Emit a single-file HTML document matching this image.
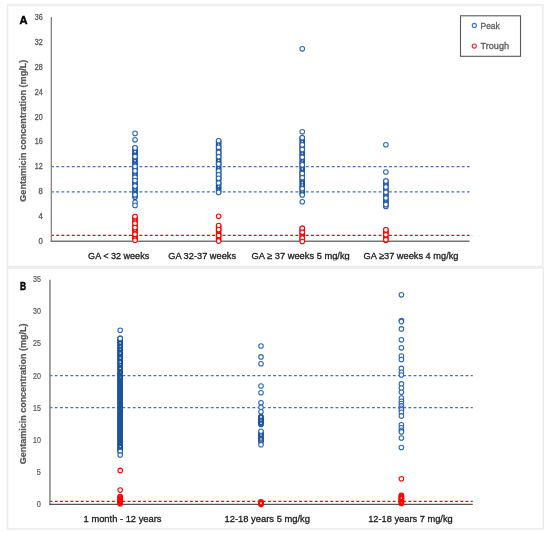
<!DOCTYPE html>
<html><head><meta charset="utf-8"><title>Gentamicin concentrations</title>
<style>html,body{margin:0;padding:0;background:#fff;width:550px;height:534px;overflow:hidden}svg{display:block;filter:blur(0.3px)}</style>
</head><body>
<svg width="550" height="534" viewBox="0 0 550 534"><rect x="0" y="0" width="550" height="534" fill="#fff"/><rect x="7.5" y="5" width="535.3" height="261.5" fill="none" stroke="#EBEBEB" stroke-width="1.5"/><rect x="7.5" y="268" width="535.8" height="260.9" fill="none" stroke="#EBEBEB" stroke-width="1.5"/><line x1="51.0" y1="166.50" x2="469.6" y2="166.50" stroke="#4472C4" stroke-width="1.25" stroke-dasharray="2.9 2.3"/><line x1="51.0" y1="191.90" x2="469.6" y2="191.90" stroke="#4472C4" stroke-width="1.25" stroke-dasharray="2.9 2.3"/><line x1="51.0" y1="235.40" x2="469.6" y2="235.40" stroke="#FF0000" stroke-width="1.15" stroke-dasharray="2.9 2.3"/><line x1="51.35" y1="17.0" x2="51.35" y2="242.0" stroke="#858585" stroke-width="1.35"/><line x1="50.7" y1="241.3" x2="469.6" y2="241.3" stroke="#767676" stroke-width="1.4"/><text x="42.8" y="244.20" font-family="'Liberation Sans', sans-serif" font-size="8.8" fill="#595959" stroke="#595959" stroke-width="0.32" text-anchor="end" textLength="4.3" lengthAdjust="spacingAndGlyphs">0</text><text x="42.8" y="219.27" font-family="'Liberation Sans', sans-serif" font-size="8.8" fill="#595959" stroke="#595959" stroke-width="0.32" text-anchor="end" textLength="4.3" lengthAdjust="spacingAndGlyphs">4</text><text x="42.8" y="194.34" font-family="'Liberation Sans', sans-serif" font-size="8.8" fill="#595959" stroke="#595959" stroke-width="0.32" text-anchor="end" textLength="4.3" lengthAdjust="spacingAndGlyphs">8</text><text x="42.8" y="169.40" font-family="'Liberation Sans', sans-serif" font-size="8.8" fill="#595959" stroke="#595959" stroke-width="0.32" text-anchor="end" textLength="8.0" lengthAdjust="spacingAndGlyphs">12</text><text x="42.8" y="144.47" font-family="'Liberation Sans', sans-serif" font-size="8.8" fill="#595959" stroke="#595959" stroke-width="0.32" text-anchor="end" textLength="8.0" lengthAdjust="spacingAndGlyphs">16</text><text x="42.8" y="119.54" font-family="'Liberation Sans', sans-serif" font-size="8.8" fill="#595959" stroke="#595959" stroke-width="0.32" text-anchor="end" textLength="8.0" lengthAdjust="spacingAndGlyphs">20</text><text x="42.8" y="94.61" font-family="'Liberation Sans', sans-serif" font-size="8.8" fill="#595959" stroke="#595959" stroke-width="0.32" text-anchor="end" textLength="8.0" lengthAdjust="spacingAndGlyphs">24</text><text x="42.8" y="69.68" font-family="'Liberation Sans', sans-serif" font-size="8.8" fill="#595959" stroke="#595959" stroke-width="0.32" text-anchor="end" textLength="8.0" lengthAdjust="spacingAndGlyphs">28</text><text x="42.8" y="44.74" font-family="'Liberation Sans', sans-serif" font-size="8.8" fill="#595959" stroke="#595959" stroke-width="0.32" text-anchor="end" textLength="8.0" lengthAdjust="spacingAndGlyphs">32</text><text x="42.8" y="19.81" font-family="'Liberation Sans', sans-serif" font-size="8.8" fill="#595959" stroke="#595959" stroke-width="0.32" text-anchor="end" textLength="8.0" lengthAdjust="spacingAndGlyphs">36</text><g fill="#fff" stroke="#2A64B4" stroke-width="1.05"><circle cx="135.02" cy="148.00" r="2.3" fill="none" stroke="#1C53A2"/><circle cx="135.02" cy="149.70" r="2.3" fill="none" stroke="#1C53A2"/><circle cx="135.02" cy="151.40" r="2.3" fill="none" stroke="#1C53A2"/><circle cx="135.02" cy="153.10" r="2.3" fill="none" stroke="#1C53A2"/><circle cx="135.02" cy="154.80" r="2.3" fill="none" stroke="#1C53A2"/><circle cx="135.02" cy="156.50" r="2.3" fill="none" stroke="#1C53A2"/><circle cx="135.02" cy="158.20" r="2.3" fill="none" stroke="#1C53A2"/><circle cx="135.02" cy="159.90" r="2.3" fill="none" stroke="#1C53A2"/><circle cx="135.02" cy="161.60" r="2.3" fill="none" stroke="#1C53A2"/><circle cx="135.02" cy="163.30" r="2.3" fill="none" stroke="#1C53A2"/><circle cx="135.02" cy="165.00" r="2.3" fill="none" stroke="#1C53A2"/><circle cx="135.02" cy="166.70" r="2.3" fill="none" stroke="#1C53A2"/><circle cx="135.02" cy="168.40" r="2.3" fill="none" stroke="#1C53A2"/><circle cx="135.02" cy="170.10" r="2.3" fill="none" stroke="#1C53A2"/><circle cx="135.02" cy="171.80" r="2.3" fill="none" stroke="#1C53A2"/><circle cx="135.02" cy="173.50" r="2.3" fill="none" stroke="#1C53A2"/><circle cx="135.02" cy="175.20" r="2.3" fill="none" stroke="#1C53A2"/><circle cx="135.02" cy="176.90" r="2.3" fill="none" stroke="#1C53A2"/><circle cx="135.02" cy="178.60" r="2.3" fill="none" stroke="#1C53A2"/><circle cx="135.02" cy="180.30" r="2.3" fill="none" stroke="#1C53A2"/><circle cx="135.02" cy="182.00" r="2.3" fill="none" stroke="#1C53A2"/><circle cx="135.02" cy="183.70" r="2.3" fill="none" stroke="#1C53A2"/><circle cx="135.02" cy="185.40" r="2.3" fill="none" stroke="#1C53A2"/><circle cx="135.02" cy="187.10" r="2.3" fill="none" stroke="#1C53A2"/><circle cx="135.02" cy="188.80" r="2.3" fill="none" stroke="#1C53A2"/><circle cx="135.02" cy="190.50" r="2.3" fill="none" stroke="#1C53A2"/><circle cx="135.02" cy="192.20" r="2.3" fill="none" stroke="#1C53A2"/><circle cx="135.02" cy="193.90" r="2.3" fill="none" stroke="#1C53A2"/><circle cx="135.02" cy="195.60" r="2.3" fill="none" stroke="#1C53A2"/><circle cx="135.02" cy="197.30" r="2.3" fill="none" stroke="#1C53A2"/><circle cx="135.02" cy="151.75" r="0.95" fill="#fff" stroke="none"/><circle cx="135.02" cy="160.40" r="0.75" fill="#fff" stroke="none"/><circle cx="135.02" cy="173.90" r="0.6" fill="#fff" stroke="none"/><circle cx="135.02" cy="190.00" r="0.75" fill="#fff" stroke="none"/><circle cx="135.02" cy="197.30" r="0.75" fill="#fff" stroke="none"/><circle cx="135.02" cy="133.40" r="2.3"/><circle cx="135.02" cy="139.80" r="2.3"/><circle cx="135.02" cy="147.90" r="2.3"/><circle cx="135.02" cy="156.60" r="2.3"/><circle cx="135.02" cy="166.40" r="2.3"/><circle cx="135.02" cy="170.90" r="2.3"/><circle cx="135.02" cy="177.25" r="2.3"/><circle cx="135.02" cy="180.60" r="2.3"/><circle cx="135.02" cy="186.10" r="2.3"/><circle cx="135.02" cy="194.70" r="2.3"/><circle cx="135.02" cy="202.20" r="2.3"/><circle cx="135.02" cy="205.40" r="2.3"/><circle cx="218.64" cy="141.00" r="2.3" fill="none" stroke="#1C53A2"/><circle cx="218.64" cy="142.70" r="2.3" fill="none" stroke="#1C53A2"/><circle cx="218.64" cy="144.40" r="2.3" fill="none" stroke="#1C53A2"/><circle cx="218.64" cy="146.10" r="2.3" fill="none" stroke="#1C53A2"/><circle cx="218.64" cy="147.80" r="2.3" fill="none" stroke="#1C53A2"/><circle cx="218.64" cy="149.50" r="2.3" fill="none" stroke="#1C53A2"/><circle cx="218.64" cy="151.20" r="2.3" fill="none" stroke="#1C53A2"/><circle cx="218.64" cy="152.90" r="2.3" fill="none" stroke="#1C53A2"/><circle cx="218.64" cy="154.60" r="2.3" fill="none" stroke="#1C53A2"/><circle cx="218.64" cy="156.30" r="2.3" fill="none" stroke="#1C53A2"/><circle cx="218.64" cy="158.00" r="2.3" fill="none" stroke="#1C53A2"/><circle cx="218.64" cy="159.70" r="2.3" fill="none" stroke="#1C53A2"/><circle cx="218.64" cy="161.40" r="2.3" fill="none" stroke="#1C53A2"/><circle cx="218.64" cy="163.10" r="2.3" fill="none" stroke="#1C53A2"/><circle cx="218.64" cy="164.80" r="2.3" fill="none" stroke="#1C53A2"/><circle cx="218.64" cy="166.50" r="2.3" fill="none" stroke="#1C53A2"/><circle cx="218.64" cy="168.20" r="2.3" fill="none" stroke="#1C53A2"/><circle cx="218.64" cy="169.90" r="2.3" fill="none" stroke="#1C53A2"/><circle cx="218.64" cy="171.60" r="2.3" fill="none" stroke="#1C53A2"/><circle cx="218.64" cy="173.30" r="2.3" fill="none" stroke="#1C53A2"/><circle cx="218.64" cy="175.00" r="2.3" fill="none" stroke="#1C53A2"/><circle cx="218.64" cy="176.70" r="2.3" fill="none" stroke="#1C53A2"/><circle cx="218.64" cy="178.40" r="2.3" fill="none" stroke="#1C53A2"/><circle cx="218.64" cy="180.10" r="2.3" fill="none" stroke="#1C53A2"/><circle cx="218.64" cy="181.80" r="2.3" fill="none" stroke="#1C53A2"/><circle cx="218.64" cy="183.50" r="2.3" fill="none" stroke="#1C53A2"/><circle cx="218.64" cy="185.20" r="2.3" fill="none" stroke="#1C53A2"/><circle cx="218.64" cy="186.90" r="2.3" fill="none" stroke="#1C53A2"/><circle cx="218.64" cy="188.60" r="2.3" fill="none" stroke="#1C53A2"/><circle cx="218.64" cy="190.30" r="2.3" fill="none" stroke="#1C53A2"/><circle cx="218.64" cy="192.00" r="2.3" fill="none" stroke="#1C53A2"/><circle cx="218.64" cy="144.30" r="0.75" fill="#fff" stroke="none"/><circle cx="218.64" cy="160.50" r="0.75" fill="#fff" stroke="none"/><circle cx="218.64" cy="167.90" r="0.6" fill="#fff" stroke="none"/><circle cx="218.64" cy="186.60" r="0.75" fill="#fff" stroke="none"/><circle cx="218.64" cy="140.70" r="2.3"/><circle cx="218.64" cy="147.20" r="2.3"/><circle cx="218.64" cy="152.60" r="2.3"/><circle cx="218.64" cy="156.80" r="2.3"/><circle cx="218.64" cy="164.10" r="2.3"/><circle cx="218.64" cy="171.00" r="2.3"/><circle cx="218.64" cy="174.80" r="2.3"/><circle cx="218.64" cy="178.20" r="2.3"/><circle cx="218.64" cy="183.00" r="2.3"/><circle cx="218.64" cy="192.40" r="2.3"/><circle cx="302.26" cy="137.70" r="2.3" fill="none" stroke="#1C53A2"/><circle cx="302.26" cy="139.40" r="2.3" fill="none" stroke="#1C53A2"/><circle cx="302.26" cy="141.10" r="2.3" fill="none" stroke="#1C53A2"/><circle cx="302.26" cy="142.80" r="2.3" fill="none" stroke="#1C53A2"/><circle cx="302.26" cy="144.50" r="2.3" fill="none" stroke="#1C53A2"/><circle cx="302.26" cy="146.20" r="2.3" fill="none" stroke="#1C53A2"/><circle cx="302.26" cy="147.90" r="2.3" fill="none" stroke="#1C53A2"/><circle cx="302.26" cy="149.60" r="2.3" fill="none" stroke="#1C53A2"/><circle cx="302.26" cy="151.30" r="2.3" fill="none" stroke="#1C53A2"/><circle cx="302.26" cy="153.00" r="2.3" fill="none" stroke="#1C53A2"/><circle cx="302.26" cy="154.70" r="2.3" fill="none" stroke="#1C53A2"/><circle cx="302.26" cy="156.40" r="2.3" fill="none" stroke="#1C53A2"/><circle cx="302.26" cy="158.10" r="2.3" fill="none" stroke="#1C53A2"/><circle cx="302.26" cy="159.80" r="2.3" fill="none" stroke="#1C53A2"/><circle cx="302.26" cy="161.50" r="2.3" fill="none" stroke="#1C53A2"/><circle cx="302.26" cy="163.20" r="2.3" fill="none" stroke="#1C53A2"/><circle cx="302.26" cy="164.90" r="2.3" fill="none" stroke="#1C53A2"/><circle cx="302.26" cy="166.60" r="2.3" fill="none" stroke="#1C53A2"/><circle cx="302.26" cy="168.30" r="2.3" fill="none" stroke="#1C53A2"/><circle cx="302.26" cy="170.00" r="2.3" fill="none" stroke="#1C53A2"/><circle cx="302.26" cy="171.70" r="2.3" fill="none" stroke="#1C53A2"/><circle cx="302.26" cy="173.40" r="2.3" fill="none" stroke="#1C53A2"/><circle cx="302.26" cy="175.10" r="2.3" fill="none" stroke="#1C53A2"/><circle cx="302.26" cy="176.80" r="2.3" fill="none" stroke="#1C53A2"/><circle cx="302.26" cy="178.50" r="2.3" fill="none" stroke="#1C53A2"/><circle cx="302.26" cy="180.20" r="2.3" fill="none" stroke="#1C53A2"/><circle cx="302.26" cy="181.90" r="2.3" fill="none" stroke="#1C53A2"/><circle cx="302.26" cy="183.60" r="2.3" fill="none" stroke="#1C53A2"/><circle cx="302.26" cy="185.30" r="2.3" fill="none" stroke="#1C53A2"/><circle cx="302.26" cy="187.00" r="2.3" fill="none" stroke="#1C53A2"/><circle cx="302.26" cy="188.70" r="2.3" fill="none" stroke="#1C53A2"/><circle cx="302.26" cy="190.40" r="2.3" fill="none" stroke="#1C53A2"/><circle cx="302.26" cy="192.10" r="2.3" fill="none" stroke="#1C53A2"/><circle cx="302.26" cy="193.80" r="2.3" fill="none" stroke="#1C53A2"/><circle cx="302.26" cy="141.50" r="0.75" fill="#fff" stroke="none"/><circle cx="302.26" cy="153.20" r="0.75" fill="#fff" stroke="none"/><circle cx="302.26" cy="161.00" r="0.6" fill="#fff" stroke="none"/><circle cx="302.26" cy="169.10" r="0.75" fill="#fff" stroke="none"/><circle cx="302.26" cy="182.40" r="0.75" fill="#fff" stroke="none"/><circle cx="302.26" cy="184.90" r="0.75" fill="#fff" stroke="none"/><circle cx="302.26" cy="191.80" r="0.75" fill="#fff" stroke="none"/><circle cx="302.26" cy="48.80" r="2.3"/><circle cx="302.26" cy="131.80" r="2.3"/><circle cx="302.26" cy="137.70" r="2.3"/><circle cx="302.26" cy="144.90" r="2.3"/><circle cx="302.26" cy="149.60" r="2.3"/><circle cx="302.26" cy="157.20" r="2.3"/><circle cx="302.26" cy="164.90" r="2.3"/><circle cx="302.26" cy="173.60" r="2.3"/><circle cx="302.26" cy="177.70" r="2.3"/><circle cx="302.26" cy="188.70" r="2.3"/><circle cx="302.26" cy="195.00" r="2.3"/><circle cx="302.26" cy="201.70" r="2.3"/><circle cx="385.88" cy="181.00" r="2.3" fill="none" stroke="#1C53A2"/><circle cx="385.88" cy="182.70" r="2.3" fill="none" stroke="#1C53A2"/><circle cx="385.88" cy="184.40" r="2.3" fill="none" stroke="#1C53A2"/><circle cx="385.88" cy="186.10" r="2.3" fill="none" stroke="#1C53A2"/><circle cx="385.88" cy="187.80" r="2.3" fill="none" stroke="#1C53A2"/><circle cx="385.88" cy="189.50" r="2.3" fill="none" stroke="#1C53A2"/><circle cx="385.88" cy="191.20" r="2.3" fill="none" stroke="#1C53A2"/><circle cx="385.88" cy="192.90" r="2.3" fill="none" stroke="#1C53A2"/><circle cx="385.88" cy="194.60" r="2.3" fill="none" stroke="#1C53A2"/><circle cx="385.88" cy="196.30" r="2.3" fill="none" stroke="#1C53A2"/><circle cx="385.88" cy="198.00" r="2.3" fill="none" stroke="#1C53A2"/><circle cx="385.88" cy="199.70" r="2.3" fill="none" stroke="#1C53A2"/><circle cx="385.88" cy="201.40" r="2.3" fill="none" stroke="#1C53A2"/><circle cx="385.88" cy="203.10" r="2.3" fill="none" stroke="#1C53A2"/><circle cx="385.88" cy="204.80" r="2.3" fill="none" stroke="#1C53A2"/><circle cx="385.88" cy="206.50" r="2.3" fill="none" stroke="#1C53A2"/><circle cx="385.88" cy="184.20" r="0.6" fill="#fff" stroke="none"/><circle cx="385.88" cy="196.00" r="0.5" fill="#fff" stroke="none"/><circle cx="385.88" cy="200.00" r="0.6" fill="#fff" stroke="none"/><circle cx="385.88" cy="207.60" r="0.75" fill="#fff" stroke="none"/><circle cx="385.88" cy="144.70" r="2.3"/><circle cx="385.88" cy="172.00" r="2.3"/><circle cx="385.88" cy="181.10" r="2.3"/><circle cx="385.88" cy="187.10" r="2.3"/><circle cx="385.88" cy="192.30" r="2.3"/><circle cx="385.88" cy="198.00" r="2.3"/><circle cx="385.88" cy="204.60" r="2.3"/></g><g fill="#fff" stroke="#FF0000" stroke-width="1.05"><circle cx="135.02" cy="217.00" r="2.3" fill="none" stroke="#FF0000"/><circle cx="135.02" cy="218.70" r="2.3" fill="none" stroke="#FF0000"/><circle cx="135.02" cy="220.40" r="2.3" fill="none" stroke="#FF0000"/><circle cx="135.02" cy="222.10" r="2.3" fill="none" stroke="#FF0000"/><circle cx="135.02" cy="223.80" r="2.3" fill="none" stroke="#FF0000"/><circle cx="135.02" cy="225.50" r="2.3" fill="none" stroke="#FF0000"/><circle cx="135.02" cy="227.20" r="2.3" fill="none" stroke="#FF0000"/><circle cx="135.02" cy="228.90" r="2.3" fill="none" stroke="#FF0000"/><circle cx="135.02" cy="230.60" r="2.3" fill="none" stroke="#FF0000"/><circle cx="135.02" cy="232.30" r="2.3" fill="none" stroke="#FF0000"/><circle cx="135.02" cy="234.00" r="2.3" fill="none" stroke="#FF0000"/><circle cx="135.02" cy="235.70" r="2.3" fill="none" stroke="#FF0000"/><circle cx="135.02" cy="237.40" r="2.3" fill="none" stroke="#FF0000"/><circle cx="135.02" cy="239.10" r="2.3" fill="none" stroke="#FF0000"/><circle cx="135.02" cy="220.00" r="0.75" fill="#fff" stroke="none"/><circle cx="135.02" cy="230.40" r="0.75" fill="#fff" stroke="none"/><circle cx="135.02" cy="232.30" r="0.6" fill="#fff" stroke="none"/><circle cx="135.02" cy="237.40" r="0.75" fill="#fff" stroke="none"/><circle cx="135.02" cy="216.60" r="2.3"/><circle cx="135.02" cy="223.40" r="2.3"/><circle cx="135.02" cy="227.60" r="2.3"/><circle cx="135.02" cy="234.30" r="2.3"/><circle cx="135.02" cy="240.20" r="2.3"/><circle cx="218.64" cy="226.00" r="2.3" fill="none" stroke="#FF0000"/><circle cx="218.64" cy="227.70" r="2.3" fill="none" stroke="#FF0000"/><circle cx="218.64" cy="229.40" r="2.3" fill="none" stroke="#FF0000"/><circle cx="218.64" cy="231.10" r="2.3" fill="none" stroke="#FF0000"/><circle cx="218.64" cy="232.80" r="2.3" fill="none" stroke="#FF0000"/><circle cx="218.64" cy="234.50" r="2.3" fill="none" stroke="#FF0000"/><circle cx="218.64" cy="236.20" r="2.3" fill="none" stroke="#FF0000"/><circle cx="218.64" cy="237.90" r="2.3" fill="none" stroke="#FF0000"/><circle cx="218.64" cy="239.60" r="2.3" fill="none" stroke="#FF0000"/><circle cx="218.64" cy="216.20" r="2.3"/><circle cx="218.64" cy="225.60" r="2.3"/><circle cx="218.64" cy="229.60" r="2.3"/><circle cx="218.64" cy="235.50" r="2.3"/><circle cx="218.64" cy="241.10" r="2.3"/><circle cx="302.26" cy="228.30" r="2.3" fill="none" stroke="#FF0000"/><circle cx="302.26" cy="230.00" r="2.3" fill="none" stroke="#FF0000"/><circle cx="302.26" cy="231.70" r="2.3" fill="none" stroke="#FF0000"/><circle cx="302.26" cy="233.40" r="2.3" fill="none" stroke="#FF0000"/><circle cx="302.26" cy="235.10" r="2.3" fill="none" stroke="#FF0000"/><circle cx="302.26" cy="236.80" r="2.3" fill="none" stroke="#FF0000"/><circle cx="302.26" cy="238.50" r="2.3" fill="none" stroke="#FF0000"/><circle cx="302.26" cy="240.20" r="2.3" fill="none" stroke="#FF0000"/><circle cx="302.26" cy="235.20" r="0.6" fill="#fff" stroke="none"/><circle cx="302.26" cy="228.30" r="2.3"/><circle cx="302.26" cy="232.30" r="2.3"/><circle cx="302.26" cy="238.00" r="2.3"/><circle cx="302.26" cy="241.50" r="2.3"/><circle cx="385.88" cy="230.00" r="2.3" fill="none" stroke="#FF0000"/><circle cx="385.88" cy="231.70" r="2.3" fill="none" stroke="#FF0000"/><circle cx="385.88" cy="233.40" r="2.3" fill="none" stroke="#FF0000"/><circle cx="385.88" cy="235.10" r="2.3" fill="none" stroke="#FF0000"/><circle cx="385.88" cy="236.80" r="2.3" fill="none" stroke="#FF0000"/><circle cx="385.88" cy="238.50" r="2.3" fill="none" stroke="#FF0000"/><circle cx="385.88" cy="240.20" r="2.3" fill="none" stroke="#FF0000"/><circle cx="385.88" cy="231.90" r="0.75" fill="#fff" stroke="none"/><circle cx="385.88" cy="237.50" r="0.5" fill="#fff" stroke="none"/><circle cx="385.88" cy="229.90" r="2.3"/><circle cx="385.88" cy="234.80" r="2.3"/><circle cx="385.88" cy="239.70" r="2.3"/></g><text x="19.5" y="24.2" font-family="'Liberation Sans', sans-serif" font-size="11.6" font-weight="bold" fill="#000" stroke="#000" stroke-width="0.5" textLength="8.0" lengthAdjust="spacingAndGlyphs">A</text><text transform="translate(26.2 130.7) rotate(-90)" font-family="'Liberation Sans', sans-serif" font-size="9.6" font-weight="bold" fill="#595959" stroke="#595959" stroke-width="0.25" text-anchor="middle" textLength="142" lengthAdjust="spacingAndGlyphs">Gentamicin concentration (mg/L)</text><text x="88.1" y="259.3" font-family="'Liberation Sans', sans-serif" font-size="9.4" fill="#1a1a1a" stroke="#1a1a1a" stroke-width="0.3" textLength="61.1" lengthAdjust="spacingAndGlyphs" >GA &lt; 32 weeks</text><text x="168.2" y="259.3" font-family="'Liberation Sans', sans-serif" font-size="9.4" fill="#1a1a1a" stroke="#1a1a1a" stroke-width="0.3" textLength="67.9" lengthAdjust="spacingAndGlyphs" >GA 32-37 weeks</text><clipPath id="cl5"><rect x="240" y="240" width="120" height="20.2"/></clipPath><text x="251.5" y="259.3" font-family="'Liberation Sans', sans-serif" font-size="9.4" fill="#1a1a1a" stroke="#1a1a1a" stroke-width="0.3" textLength="98.3" lengthAdjust="spacingAndGlyphs" clip-path="url(#cl5)">GA ≥ 37 weeks 5 mg/kg</text><text x="363.5" y="259.3" font-family="'Liberation Sans', sans-serif" font-size="9.4" fill="#1a1a1a" stroke="#1a1a1a" stroke-width="0.3" textLength="95.0" lengthAdjust="spacingAndGlyphs" >GA ≥37 weeks 4 mg/kg</text><rect x="460.5" y="15.8" width="60" height="40.5" fill="#fff" stroke="#595959" stroke-width="1.1"/><circle cx="474.3" cy="25.4" r="2.05" fill="none" stroke="#3D6EC0" stroke-width="1.1"/><circle cx="474.3" cy="46.1" r="2.05" fill="none" stroke="#F02A2A" stroke-width="1.1"/><text x="480.5" y="28.5" font-family="'Liberation Sans', sans-serif" font-size="9.7" fill="#595959" stroke="#595959" stroke-width="0.3" textLength="19.3" lengthAdjust="spacingAndGlyphs">Peak</text><text x="480.5" y="48.9" font-family="'Liberation Sans', sans-serif" font-size="9.7" fill="#595959" stroke="#595959" stroke-width="0.3" textLength="28.6" lengthAdjust="spacingAndGlyphs">Trough</text><line x1="49.55" y1="375.50" x2="472.8" y2="375.50" stroke="#4472C4" stroke-width="1.25" stroke-dasharray="2.9 2.3"/><line x1="49.55" y1="407.60" x2="472.8" y2="407.60" stroke="#4472C4" stroke-width="1.25" stroke-dasharray="2.9 2.3"/><line x1="49.55" y1="501.30" x2="472.8" y2="501.30" stroke="#FF0000" stroke-width="1.15" stroke-dasharray="2.9 2.3"/><line x1="49.95" y1="279.8" x2="49.95" y2="505.0" stroke="#838383" stroke-width="1.5"/><line x1="49.2" y1="504.3" x2="472.8" y2="504.3" stroke="#555555" stroke-width="1.3"/><text x="40.9" y="506.90" font-family="'Liberation Sans', sans-serif" font-size="8.6" fill="#595959" stroke="#595959" stroke-width="0.22" text-anchor="end" textLength="4.1" lengthAdjust="spacingAndGlyphs">0</text><text x="40.9" y="474.80" font-family="'Liberation Sans', sans-serif" font-size="8.6" fill="#595959" stroke="#595959" stroke-width="0.22" text-anchor="end" textLength="4.1" lengthAdjust="spacingAndGlyphs">5</text><text x="40.9" y="442.70" font-family="'Liberation Sans', sans-serif" font-size="8.6" fill="#595959" stroke="#595959" stroke-width="0.22" text-anchor="end" textLength="7.9" lengthAdjust="spacingAndGlyphs">10</text><text x="40.9" y="410.60" font-family="'Liberation Sans', sans-serif" font-size="8.6" fill="#595959" stroke="#595959" stroke-width="0.22" text-anchor="end" textLength="7.9" lengthAdjust="spacingAndGlyphs">15</text><text x="40.9" y="378.50" font-family="'Liberation Sans', sans-serif" font-size="8.6" fill="#595959" stroke="#595959" stroke-width="0.22" text-anchor="end" textLength="7.9" lengthAdjust="spacingAndGlyphs">20</text><text x="40.9" y="346.40" font-family="'Liberation Sans', sans-serif" font-size="8.6" fill="#595959" stroke="#595959" stroke-width="0.22" text-anchor="end" textLength="7.9" lengthAdjust="spacingAndGlyphs">25</text><text x="40.9" y="314.30" font-family="'Liberation Sans', sans-serif" font-size="8.6" fill="#595959" stroke="#595959" stroke-width="0.22" text-anchor="end" textLength="7.9" lengthAdjust="spacingAndGlyphs">30</text><text x="40.9" y="282.20" font-family="'Liberation Sans', sans-serif" font-size="8.6" fill="#595959" stroke="#595959" stroke-width="0.22" text-anchor="end" textLength="7.9" lengthAdjust="spacingAndGlyphs">35</text><g fill="#fff" stroke="#2A64B4" stroke-width="1.05"><circle cx="120.20" cy="338.40" r="2.3" fill="none" stroke="#1C53A2"/><circle cx="120.20" cy="339.40" r="2.3" fill="none" stroke="#1C53A2"/><circle cx="120.20" cy="340.40" r="2.3" fill="none" stroke="#1C53A2"/><circle cx="120.20" cy="341.40" r="2.3" fill="none" stroke="#1C53A2"/><circle cx="120.20" cy="342.40" r="2.3" fill="none" stroke="#1C53A2"/><circle cx="120.20" cy="343.40" r="2.3" fill="none" stroke="#1C53A2"/><circle cx="120.20" cy="344.40" r="2.3" fill="none" stroke="#1C53A2"/><circle cx="120.20" cy="345.40" r="2.3" fill="none" stroke="#1C53A2"/><circle cx="120.20" cy="346.40" r="2.3" fill="none" stroke="#1C53A2"/><circle cx="120.20" cy="347.40" r="2.3" fill="none" stroke="#1C53A2"/><circle cx="120.20" cy="348.40" r="2.3" fill="none" stroke="#1C53A2"/><circle cx="120.20" cy="349.40" r="2.3" fill="none" stroke="#1C53A2"/><circle cx="120.20" cy="350.40" r="2.3" fill="none" stroke="#1C53A2"/><circle cx="120.20" cy="351.40" r="2.3" fill="none" stroke="#1C53A2"/><circle cx="120.20" cy="352.40" r="2.3" fill="none" stroke="#1C53A2"/><circle cx="120.20" cy="353.40" r="2.3" fill="none" stroke="#1C53A2"/><circle cx="120.20" cy="354.40" r="2.3" fill="none" stroke="#1C53A2"/><circle cx="120.20" cy="355.40" r="2.3" fill="none" stroke="#1C53A2"/><circle cx="120.20" cy="356.40" r="2.3" fill="none" stroke="#1C53A2"/><circle cx="120.20" cy="357.40" r="2.3" fill="none" stroke="#1C53A2"/><circle cx="120.20" cy="358.40" r="2.3" fill="none" stroke="#1C53A2"/><circle cx="120.20" cy="359.40" r="2.3" fill="none" stroke="#1C53A2"/><circle cx="120.20" cy="360.40" r="2.3" fill="none" stroke="#1C53A2"/><circle cx="120.20" cy="361.40" r="2.3" fill="none" stroke="#1C53A2"/><circle cx="120.20" cy="362.40" r="2.3" fill="none" stroke="#1C53A2"/><circle cx="120.20" cy="363.40" r="2.3" fill="none" stroke="#1C53A2"/><circle cx="120.20" cy="364.40" r="2.3" fill="none" stroke="#1C53A2"/><circle cx="120.20" cy="365.40" r="2.3" fill="none" stroke="#1C53A2"/><circle cx="120.20" cy="366.40" r="2.3" fill="none" stroke="#1C53A2"/><circle cx="120.20" cy="367.40" r="2.3" fill="none" stroke="#1C53A2"/><circle cx="120.20" cy="368.40" r="2.3" fill="none" stroke="#1C53A2"/><circle cx="120.20" cy="369.40" r="2.3" fill="none" stroke="#1C53A2"/><circle cx="120.20" cy="370.40" r="2.3" fill="none" stroke="#1C53A2"/><circle cx="120.20" cy="371.40" r="2.3" fill="none" stroke="#1C53A2"/><circle cx="120.20" cy="372.40" r="2.3" fill="none" stroke="#1C53A2"/><circle cx="120.20" cy="373.40" r="2.3" fill="none" stroke="#1C53A2"/><circle cx="120.20" cy="374.40" r="2.3" fill="none" stroke="#1C53A2"/><circle cx="120.20" cy="375.40" r="2.3" fill="none" stroke="#1C53A2"/><circle cx="120.20" cy="376.40" r="2.3" fill="none" stroke="#1C53A2"/><circle cx="120.20" cy="377.40" r="2.3" fill="none" stroke="#1C53A2"/><circle cx="120.20" cy="378.40" r="2.3" fill="none" stroke="#1C53A2"/><circle cx="120.20" cy="379.40" r="2.3" fill="none" stroke="#1C53A2"/><circle cx="120.20" cy="380.40" r="2.3" fill="none" stroke="#1C53A2"/><circle cx="120.20" cy="381.40" r="2.3" fill="none" stroke="#1C53A2"/><circle cx="120.20" cy="382.40" r="2.3" fill="none" stroke="#1C53A2"/><circle cx="120.20" cy="383.40" r="2.3" fill="none" stroke="#1C53A2"/><circle cx="120.20" cy="384.40" r="2.3" fill="none" stroke="#1C53A2"/><circle cx="120.20" cy="385.40" r="2.3" fill="none" stroke="#1C53A2"/><circle cx="120.20" cy="386.40" r="2.3" fill="none" stroke="#1C53A2"/><circle cx="120.20" cy="387.40" r="2.3" fill="none" stroke="#1C53A2"/><circle cx="120.20" cy="388.40" r="2.3" fill="none" stroke="#1C53A2"/><circle cx="120.20" cy="389.40" r="2.3" fill="none" stroke="#1C53A2"/><circle cx="120.20" cy="390.40" r="2.3" fill="none" stroke="#1C53A2"/><circle cx="120.20" cy="391.40" r="2.3" fill="none" stroke="#1C53A2"/><circle cx="120.20" cy="392.40" r="2.3" fill="none" stroke="#1C53A2"/><circle cx="120.20" cy="393.40" r="2.3" fill="none" stroke="#1C53A2"/><circle cx="120.20" cy="394.40" r="2.3" fill="none" stroke="#1C53A2"/><circle cx="120.20" cy="395.40" r="2.3" fill="none" stroke="#1C53A2"/><circle cx="120.20" cy="396.40" r="2.3" fill="none" stroke="#1C53A2"/><circle cx="120.20" cy="397.40" r="2.3" fill="none" stroke="#1C53A2"/><circle cx="120.20" cy="398.40" r="2.3" fill="none" stroke="#1C53A2"/><circle cx="120.20" cy="399.40" r="2.3" fill="none" stroke="#1C53A2"/><circle cx="120.20" cy="400.40" r="2.3" fill="none" stroke="#1C53A2"/><circle cx="120.20" cy="401.40" r="2.3" fill="none" stroke="#1C53A2"/><circle cx="120.20" cy="402.40" r="2.3" fill="none" stroke="#1C53A2"/><circle cx="120.20" cy="403.40" r="2.3" fill="none" stroke="#1C53A2"/><circle cx="120.20" cy="404.40" r="2.3" fill="none" stroke="#1C53A2"/><circle cx="120.20" cy="405.40" r="2.3" fill="none" stroke="#1C53A2"/><circle cx="120.20" cy="406.40" r="2.3" fill="none" stroke="#1C53A2"/><circle cx="120.20" cy="407.40" r="2.3" fill="none" stroke="#1C53A2"/><circle cx="120.20" cy="408.40" r="2.3" fill="none" stroke="#1C53A2"/><circle cx="120.20" cy="409.40" r="2.3" fill="none" stroke="#1C53A2"/><circle cx="120.20" cy="410.40" r="2.3" fill="none" stroke="#1C53A2"/><circle cx="120.20" cy="411.40" r="2.3" fill="none" stroke="#1C53A2"/><circle cx="120.20" cy="412.40" r="2.3" fill="none" stroke="#1C53A2"/><circle cx="120.20" cy="413.40" r="2.3" fill="none" stroke="#1C53A2"/><circle cx="120.20" cy="414.40" r="2.3" fill="none" stroke="#1C53A2"/><circle cx="120.20" cy="415.40" r="2.3" fill="none" stroke="#1C53A2"/><circle cx="120.20" cy="416.40" r="2.3" fill="none" stroke="#1C53A2"/><circle cx="120.20" cy="417.40" r="2.3" fill="none" stroke="#1C53A2"/><circle cx="120.20" cy="418.40" r="2.3" fill="none" stroke="#1C53A2"/><circle cx="120.20" cy="419.40" r="2.3" fill="none" stroke="#1C53A2"/><circle cx="120.20" cy="420.40" r="2.3" fill="none" stroke="#1C53A2"/><circle cx="120.20" cy="421.40" r="2.3" fill="none" stroke="#1C53A2"/><circle cx="120.20" cy="422.40" r="2.3" fill="none" stroke="#1C53A2"/><circle cx="120.20" cy="423.40" r="2.3" fill="none" stroke="#1C53A2"/><circle cx="120.20" cy="424.40" r="2.3" fill="none" stroke="#1C53A2"/><circle cx="120.20" cy="425.40" r="2.3" fill="none" stroke="#1C53A2"/><circle cx="120.20" cy="426.40" r="2.3" fill="none" stroke="#1C53A2"/><circle cx="120.20" cy="427.40" r="2.3" fill="none" stroke="#1C53A2"/><circle cx="120.20" cy="428.40" r="2.3" fill="none" stroke="#1C53A2"/><circle cx="120.20" cy="429.40" r="2.3" fill="none" stroke="#1C53A2"/><circle cx="120.20" cy="430.40" r="2.3" fill="none" stroke="#1C53A2"/><circle cx="120.20" cy="431.40" r="2.3" fill="none" stroke="#1C53A2"/><circle cx="120.20" cy="432.40" r="2.3" fill="none" stroke="#1C53A2"/><circle cx="120.20" cy="433.40" r="2.3" fill="none" stroke="#1C53A2"/><circle cx="120.20" cy="434.40" r="2.3" fill="none" stroke="#1C53A2"/><circle cx="120.20" cy="435.40" r="2.3" fill="none" stroke="#1C53A2"/><circle cx="120.20" cy="436.40" r="2.3" fill="none" stroke="#1C53A2"/><circle cx="120.20" cy="437.40" r="2.3" fill="none" stroke="#1C53A2"/><circle cx="120.20" cy="438.40" r="2.3" fill="none" stroke="#1C53A2"/><circle cx="120.20" cy="439.40" r="2.3" fill="none" stroke="#1C53A2"/><circle cx="120.20" cy="440.40" r="2.3" fill="none" stroke="#1C53A2"/><circle cx="120.20" cy="441.40" r="2.3" fill="none" stroke="#1C53A2"/><circle cx="120.20" cy="442.40" r="2.3" fill="none" stroke="#1C53A2"/><circle cx="120.20" cy="443.40" r="2.3" fill="none" stroke="#1C53A2"/><circle cx="120.20" cy="444.40" r="2.3" fill="none" stroke="#1C53A2"/><circle cx="120.20" cy="445.40" r="2.3" fill="none" stroke="#1C53A2"/><circle cx="120.20" cy="446.40" r="2.3" fill="none" stroke="#1C53A2"/><circle cx="120.20" cy="447.40" r="2.3" fill="none" stroke="#1C53A2"/><circle cx="120.20" cy="448.40" r="2.3" fill="none" stroke="#1C53A2"/><circle cx="120.20" cy="449.40" r="2.3" fill="none" stroke="#1C53A2"/><circle cx="120.20" cy="450.40" r="2.3" fill="none" stroke="#1C53A2"/><circle cx="120.20" cy="451.40" r="2.3" fill="none" stroke="#1C53A2"/><circle cx="120.20" cy="343.00" r="0.75" fill="#fff" stroke="none"/><circle cx="120.20" cy="346.40" r="0.55" fill="#fff" stroke="none"/><circle cx="120.20" cy="349.10" r="0.55" fill="#fff" stroke="none"/><circle cx="120.20" cy="353.30" r="0.75" fill="#fff" stroke="none"/><circle cx="120.20" cy="357.90" r="0.75" fill="#fff" stroke="none"/><circle cx="120.20" cy="362.10" r="0.8" fill="#fff" stroke="none"/><circle cx="120.20" cy="364.50" r="0.5" fill="#fff" stroke="none"/><circle cx="120.20" cy="368.40" r="0.7" fill="#fff" stroke="none"/><circle cx="120.20" cy="372.00" r="0.4" fill="#fff" stroke="none"/><circle cx="120.20" cy="377.50" r="0.4" fill="#fff" stroke="none"/><circle cx="120.20" cy="446.60" r="0.7" fill="#fff" stroke="none"/><circle cx="120.20" cy="330.20" r="2.3"/><circle cx="120.20" cy="338.40" r="2.3"/><circle cx="120.20" cy="451.50" r="2.3"/><circle cx="120.20" cy="454.90" r="2.3"/><circle cx="261.00" cy="416.50" r="2.3" fill="none" stroke="#1C53A2"/><circle cx="261.00" cy="417.50" r="2.3" fill="none" stroke="#1C53A2"/><circle cx="261.00" cy="418.50" r="2.3" fill="none" stroke="#1C53A2"/><circle cx="261.00" cy="419.50" r="2.3" fill="none" stroke="#1C53A2"/><circle cx="261.00" cy="420.50" r="2.3" fill="none" stroke="#1C53A2"/><circle cx="261.00" cy="421.50" r="2.3" fill="none" stroke="#1C53A2"/><circle cx="261.00" cy="422.50" r="2.3" fill="none" stroke="#1C53A2"/><circle cx="261.00" cy="423.50" r="2.3" fill="none" stroke="#1C53A2"/><circle cx="261.00" cy="424.50" r="2.3" fill="none" stroke="#1C53A2"/><circle cx="261.00" cy="432.00" r="2.3" fill="none" stroke="#1C53A2"/><circle cx="261.00" cy="433.40" r="2.3" fill="none" stroke="#1C53A2"/><circle cx="261.00" cy="434.80" r="2.3" fill="none" stroke="#1C53A2"/><circle cx="261.00" cy="436.20" r="2.3" fill="none" stroke="#1C53A2"/><circle cx="261.00" cy="437.60" r="2.3" fill="none" stroke="#1C53A2"/><circle cx="261.00" cy="439.00" r="2.3" fill="none" stroke="#1C53A2"/><circle cx="261.00" cy="440.40" r="2.3" fill="none" stroke="#1C53A2"/><circle cx="261.00" cy="441.80" r="2.3" fill="none" stroke="#1C53A2"/><circle cx="261.00" cy="417.00" r="0.9" fill="#fff" stroke="none"/><circle cx="261.00" cy="420.20" r="0.6" fill="#fff" stroke="none"/><circle cx="261.00" cy="423.30" r="0.8" fill="#fff" stroke="none"/><circle cx="261.00" cy="435.00" r="0.8" fill="#fff" stroke="none"/><circle cx="261.00" cy="439.10" r="0.8" fill="#fff" stroke="none"/><circle cx="261.00" cy="346.00" r="2.3"/><circle cx="261.00" cy="356.90" r="2.3"/><circle cx="261.00" cy="363.70" r="2.3"/><circle cx="261.00" cy="386.00" r="2.3"/><circle cx="261.00" cy="392.75" r="2.3"/><circle cx="261.00" cy="402.80" r="2.3"/><circle cx="261.00" cy="407.25" r="2.3"/><circle cx="261.00" cy="411.70" r="2.3"/><circle cx="261.00" cy="431.30" r="2.3"/><circle cx="261.00" cy="444.70" r="2.3"/><circle cx="401.40" cy="294.80" r="2.3"/><circle cx="401.40" cy="320.60" r="2.3"/><circle cx="401.40" cy="321.60" r="2.3"/><circle cx="401.40" cy="328.90" r="2.3"/><circle cx="401.40" cy="339.80" r="2.3"/><circle cx="401.40" cy="347.80" r="2.3"/><circle cx="401.40" cy="356.00" r="2.3"/><circle cx="401.40" cy="359.50" r="2.3"/><circle cx="401.40" cy="368.40" r="2.3"/><circle cx="401.40" cy="372.20" r="2.3"/><circle cx="401.40" cy="375.00" r="2.3"/><circle cx="401.40" cy="383.90" r="2.3"/><circle cx="401.40" cy="388.10" r="2.3"/><circle cx="401.40" cy="392.30" r="2.3"/><circle cx="401.40" cy="398.00" r="2.3"/><circle cx="401.40" cy="401.20" r="2.3"/><circle cx="401.40" cy="403.60" r="2.3"/><circle cx="401.40" cy="405.90" r="2.3"/><circle cx="401.40" cy="408.30" r="2.3"/><circle cx="401.40" cy="409.80" r="2.3"/><circle cx="401.40" cy="412.30" r="2.3"/><circle cx="401.40" cy="415.90" r="2.3"/><circle cx="401.40" cy="424.70" r="2.3"/><circle cx="401.40" cy="427.80" r="2.3"/><circle cx="401.40" cy="430.30" r="2.3"/><circle cx="401.40" cy="431.90" r="2.3"/><circle cx="401.40" cy="438.00" r="2.3"/><circle cx="401.40" cy="447.50" r="2.3"/></g><g fill="#fff" stroke="#FF0000" stroke-width="1.05"><circle cx="120.20" cy="496.50" r="2.3" fill="none" stroke="#FF0000"/><circle cx="120.20" cy="497.30" r="2.3" fill="none" stroke="#FF0000"/><circle cx="120.20" cy="498.10" r="2.3" fill="none" stroke="#FF0000"/><circle cx="120.20" cy="498.90" r="2.3" fill="none" stroke="#FF0000"/><circle cx="120.20" cy="499.70" r="2.3" fill="none" stroke="#FF0000"/><circle cx="120.20" cy="500.50" r="2.3" fill="none" stroke="#FF0000"/><circle cx="120.20" cy="501.30" r="2.3" fill="none" stroke="#FF0000"/><circle cx="120.20" cy="502.10" r="2.3" fill="none" stroke="#FF0000"/><circle cx="120.20" cy="502.90" r="2.3" fill="none" stroke="#FF0000"/><circle cx="120.20" cy="503.70" r="2.3" fill="none" stroke="#FF0000"/><circle cx="120.20" cy="470.40" r="2.3"/><circle cx="120.20" cy="490.10" r="2.3"/><circle cx="261.00" cy="501.80" r="2.3" fill="none" stroke="#FF0000"/><circle cx="261.00" cy="502.30" r="2.3" fill="none" stroke="#FF0000"/><circle cx="261.00" cy="502.80" r="2.3" fill="none" stroke="#FF0000"/><circle cx="261.00" cy="503.30" r="2.3" fill="none" stroke="#FF0000"/><circle cx="261.00" cy="503.80" r="2.3" fill="none" stroke="#FF0000"/><circle cx="261.00" cy="504.30" r="2.3" fill="none" stroke="#FF0000"/><circle cx="261.00" cy="503.40" r="0.8" fill="#fff" stroke="none"/><circle cx="401.40" cy="495.40" r="2.3" fill="none" stroke="#FF0000"/><circle cx="401.40" cy="496.20" r="2.3" fill="none" stroke="#FF0000"/><circle cx="401.40" cy="497.00" r="2.3" fill="none" stroke="#FF0000"/><circle cx="401.40" cy="497.80" r="2.3" fill="none" stroke="#FF0000"/><circle cx="401.40" cy="498.60" r="2.3" fill="none" stroke="#FF0000"/><circle cx="401.40" cy="499.40" r="2.3" fill="none" stroke="#FF0000"/><circle cx="401.40" cy="500.20" r="2.3" fill="none" stroke="#FF0000"/><circle cx="401.40" cy="501.00" r="2.3" fill="none" stroke="#FF0000"/><circle cx="401.40" cy="501.80" r="2.3" fill="none" stroke="#FF0000"/><circle cx="401.40" cy="502.60" r="2.3" fill="none" stroke="#FF0000"/><circle cx="401.40" cy="503.40" r="2.3" fill="none" stroke="#FF0000"/><circle cx="401.40" cy="498.30" r="0.7" fill="#fff" stroke="none"/><circle cx="401.40" cy="502.80" r="0.45" fill="#fff" stroke="none"/><circle cx="401.40" cy="478.70" r="2.3"/></g><text x="20.1" y="289.9" font-family="'Liberation Sans', sans-serif" font-size="11.3" font-weight="bold" fill="#000" stroke="#000" stroke-width="0.5" textLength="6.1" lengthAdjust="spacingAndGlyphs">B</text><text transform="translate(26.2 393.9) rotate(-90)" font-family="'Liberation Sans', sans-serif" font-size="9.6" font-weight="bold" fill="#595959" stroke="#595959" stroke-width="0.25" text-anchor="middle" textLength="140.7" lengthAdjust="spacingAndGlyphs">Gentamicin concentration (mg/L)</text><text x="83.6" y="521.6" font-family="'Liberation Sans', sans-serif" font-size="9.4" fill="#1a1a1a" stroke="#1a1a1a" stroke-width="0.3" textLength="77.9" lengthAdjust="spacingAndGlyphs" >1 month - 12 years</text><text x="224.5" y="521.8" font-family="'Liberation Sans', sans-serif" font-size="9.4" fill="#1a1a1a" stroke="#1a1a1a" stroke-width="0.3" textLength="85.5" lengthAdjust="spacingAndGlyphs" >12-18 years 5 mg/kg</text><text x="368.2" y="522.2" font-family="'Liberation Sans', sans-serif" font-size="9.4" fill="#1a1a1a" stroke="#1a1a1a" stroke-width="0.3" textLength="84.5" lengthAdjust="spacingAndGlyphs" >12-18 years 7 mg/kg</text></svg>
</body></html>
